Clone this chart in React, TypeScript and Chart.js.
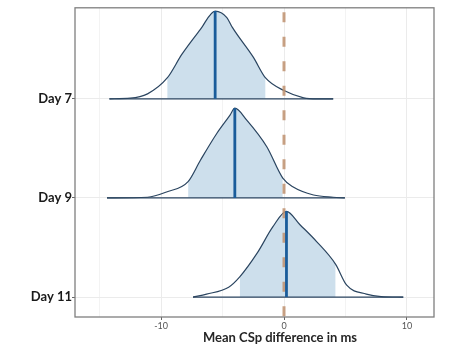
import React, { useEffect, useRef } from "react";
import { Chart, registerables } from "chart.js";

Chart.register(...registerables);

// ---- data ----
const dayLabels = ["Day 11", "Day 9", "Day 7"]; // baselines 1, 2, 3
const dayBases = [1, 2, 3];

const day7X = [-14.2, -12.5, -11.1, -9.5, -8.3, -6.8, -5.6, -4.65, -4.2, -2.5, -1.5, 0, 1.6, 2.7, 4.0];
const day7D = [0, 0.006, 0.05, 0.21, 0.45, 0.7, 0.885, 0.82, 0.72, 0.42, 0.21, 0.083, 0.01, 0, 0];
const day9X = [-14.4, -11.1, -9.5, -7.8, -6.8, -5.47, -4.39, -4.0, -3.03, -1.4, -0.1, 0.75, 2.4, 4.0, 4.95];
const day9D = [0, 0.007, 0.063, 0.165, 0.38, 0.65, 0.835, 0.905, 0.785, 0.516, 0.2, 0.11, 0.03, 0.007, 0];
const day11X = [-7.4, -6.3, -4.5, -3.6, -2.2, -0.9, 0.2, 1.3, 2.65, 4.2, 5.1, 6.7, 7.9, 9.7];
const day11D = [0, 0.03, 0.1, 0.204, 0.44, 0.71, 0.865, 0.73, 0.56, 0.33, 0.12, 0.03, 0.005, 0];

const intervalLo = [-3.6, -7.8, -9.5]; // Day 11, Day 9, Day 7
const intervalHi = [4.2, -0.1, -1.5];
const medians = [0.2, -4.0, -5.6];
const medianHeights = [0.865, 0.905, 0.885];

const refLineX = 0;
const xTickValues = [-10, 0, 10];
const xGridValues = [-15, -10, -5, 0, 5, 10];
const xTitle = "Mean CSp difference in ms";

const FILL = "#cddfec";
const OUTLINE = "#2b4560";
const MEDIAN = "#1a5c9a";
const REFLINE = "rgba(190,145,110,0.85)";

export default function App() {
  const ref = useRef<HTMLCanvasElement | null>(null);

  useEffect(() => {
    if (!ref.current) return;
    const xs = [day11X, day9X, day7X];
    const ds = [day11D, day9D, day7D];
    const datasets: any[] = [];

    for (let i = 0; i < 3; i++) {
      const base = dayBases[i];
      const pts = xs[i].map((x, j) => ({ x, y: base + ds[i][j] }));
      const shade = pts.filter((p) => p.x >= intervalLo[i] && p.x <= intervalHi[i]);
      datasets.push({
        data: shade,
        fill: { value: base },
        backgroundColor: FILL,
        borderWidth: 0,
        borderColor: "transparent",
        pointRadius: 0,
        tension: 0.4,
        cubicInterpolationMode: "monotone",
        order: 5,
      });
      datasets.push({
        data: pts,
        fill: false,
        borderColor: OUTLINE,
        borderWidth: 1.2,
        pointRadius: 0,
        tension: 0.4,
        cubicInterpolationMode: "monotone",
        order: 3,
      });
      datasets.push({
        data: [
          { x: xs[i][0], y: base },
          { x: xs[i][xs[i].length - 1], y: base },
        ],
        fill: false,
        borderColor: OUTLINE,
        borderWidth: 1.2,
        pointRadius: 0,
        order: 3,
      });
      datasets.push({
        data: [
          { x: medians[i], y: base },
          { x: medians[i], y: base + medianHeights[i] },
        ],
        fill: false,
        borderColor: MEDIAN,
        borderWidth: 2.8,
        pointRadius: 0,
        order: 1,
      });
    }

    const yMin = 0.799;
    const yMax = 3.918;
    datasets.push({
      data: [
        { x: refLineX, y: yMax },
        { x: refLineX, y: yMin },
      ],
      fill: false,
      borderColor: REFLINE,
      borderWidth: 3,
      borderDash: [10, 14.5],
      borderDashOffset: 20,
      pointRadius: 0,
      order: 2,
    });

    const boxPlugin = {
      id: "panelBox",
      afterDatasetsDraw(chart: any) {
        const { ctx, chartArea } = chart;
        ctx.save();
        ctx.strokeStyle = "#7f7f7f";
        ctx.lineWidth = 1.3;
        ctx.strokeRect(chartArea.left, chartArea.top, chartArea.right - chartArea.left, chartArea.bottom - chartArea.top);
        ctx.restore();
      },
    };

    const titlePlugin = {
      id: "xTitle",
      afterDraw(chart: any) {
        const { ctx } = chart;
        ctx.save();
        ctx.font = "bold 13px Lato, 'Open Sans', sans-serif";
        ctx.fillStyle = "#262626";
        ctx.textAlign = "center";
        ctx.textBaseline = "middle";
        ctx.fillText(xTitle, 280, 338);
        ctx.restore();
      },
    };

    Chart.defaults.font.family = "Lato, 'Open Sans', sans-serif";

    const chart = new Chart(ref.current, {
      type: "line",
      data: { datasets },
      plugins: [boxPlugin, titlePlugin],
      options: {
        animation: false,
        responsive: false,
        devicePixelRatio: 1,
        layout: { padding: { left: 0, right: 40, top: 7, bottom: 0 } },
        plugins: { legend: { display: false }, tooltip: { enabled: false } },
        scales: {
          x: {
            type: "linear",
            min: -17,
            max: 12.2,
            afterFit: (s: any) => {
              s.height = 38;
            },
            afterBuildTicks: (s: any) => {
              s.ticks = xGridValues.map((v) => ({ value: v }));
            },
            ticks: {
              autoSkip: false,
              maxRotation: 0,
              padding: 1,
              color: "#555",
              font: { size: 9 },
              callback: (v: any) => (xTickValues.includes(Number(v)) ? String(v) : ""),
            },
            grid: {
              color: (c: any) => (xTickValues.includes(c.tick?.value) ? "#ebebeb" : "#f3f3f3"),
              lineWidth: 1,
              tickLength: 3,
              tickColor: (c: any) => (xTickValues.includes(c.tick?.value) ? "#666" : "transparent"),
            },
            border: { display: false },
            title: { display: false },
          },
          y: {
            type: "linear",
            min: yMin,
            max: yMax,
            afterFit: (s: any) => {
              s.width = 75;
            },
            afterBuildTicks: (s: any) => {
              s.ticks = dayBases.map((v) => ({ value: v }));
            },
            ticks: {
              autoSkip: false,
              padding: 0,
              color: "#1a1a1a",
              font: { size: 13, weight: "bold" },
              callback: (_v: any, i: number) => dayLabels[i],
            },
            grid: {
              color: "#ebebeb",
              lineWidth: 1,
              tickLength: 3,
              tickColor: "#666",
            },
            border: { display: false },
          },
        },
      },
    });
    return () => chart.destroy();
  }, []);

  return (
    <div style={{ position: "fixed", left: 0, top: 0, width: 474, height: 355, background: "#fff" }}>
      <canvas ref={ref} width={474} height={355} style={{ width: 474, height: 355 }} />
    </div>
  );
}
